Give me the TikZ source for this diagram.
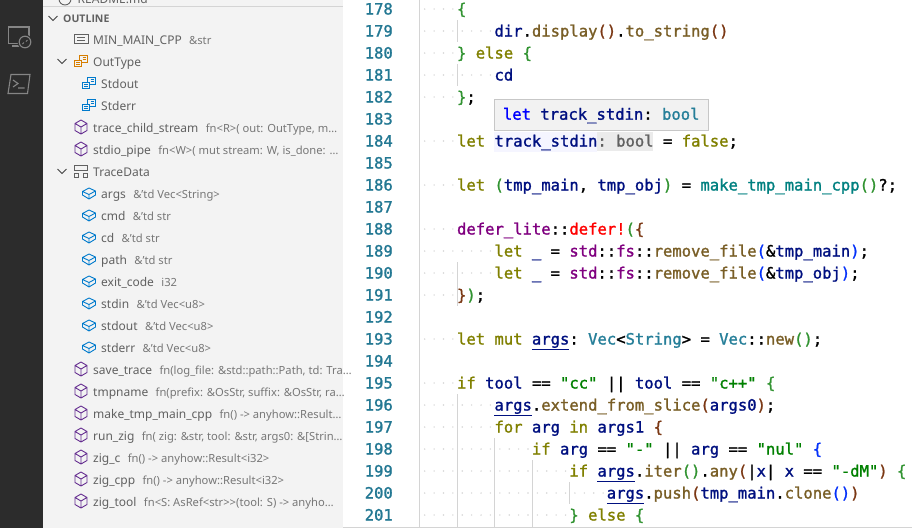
\documentclass[tikz,border=0pt]{standalone}
\usepackage{fontspec}
\setmainfont{Noto Sans}
\setmonofont{DejaVu Sans Mono}[FakeBold=1.4]
\newfontfamily\headfont{Open Sans}
\usetikzlibrary{positioning}

\definecolor{barbg}{HTML}{2C2C2C}
\definecolor{sidebg}{HTML}{F3F3F3}
\definecolor{barfg}{HTML}{858585}
\definecolor{nametext}{HTML}{616161}
\definecolor{detailtext}{HTML}{777777}
\definecolor{chevron}{HTML}{424242}
\definecolor{methodcol}{HTML}{652D90}
\definecolor{fieldcol}{HTML}{007ACC}
\definecolor{enumcol}{HTML}{D67E00}
\definecolor{kwcol}{HTML}{808000}
\definecolor{varcol}{HTML}{001080}
\definecolor{fncol}{HTML}{795E26}
\definecolor{tycol}{HTML}{267F99}
\definecolor{cfcol}{HTML}{008080}
\definecolor{pucol}{HTML}{800080}
\definecolor{strcol}{HTML}{008000}
\definecolor{gbr}{HTML}{319331}
\definecolor{bbr}{HTML}{0431FA}
\definecolor{rbr}{HTML}{7B3814}
\definecolor{numcol}{HTML}{237893}
\definecolor{hintcol}{HTML}{616161}
\definecolor{rulecol}{HTML}{D4D4D4}

\newcommand{\kw}[1]{\textcolor{kwcol}{#1}}
\newcommand{\vr}[1]{\textcolor{varcol}{#1}}
\newcommand{\uv}[1]{\textcolor{varcol}{\underline{#1}}}
\newcommand{\fnn}[1]{\textcolor{fncol}{#1}}
\newcommand{\ty}[1]{\textcolor{tycol}{#1}}
\newcommand{\cf}[1]{\textcolor{cfcol}{#1}}
\newcommand{\pu}[1]{\textcolor{pucol}{#1}}
\newcommand{\st}[1]{\textcolor{strcol}{#1}}
\newcommand{\gb}[1]{\textcolor{gbr}{#1}}
\newcommand{\bb}[1]{\textcolor{bbr}{#1}}
\newcommand{\rb}[1]{\textcolor{rbr}{#1}}

\tikzset{
    outlinename/.style={anchor=west, inner sep=0pt, text height=13pt, text depth=2.5pt,
        text=nametext, font=\fontsize{12}{15}\selectfont},
    outlinedetail/.style={anchor=base west, inner sep=0pt, text=detailtext,
        font=\fontsize{11.2}{14}\selectfont},
    codeline/.style={anchor=base west, inner sep=0pt, font=\ttfamily\fontsize{15.55}{22}\selectfont},
    linenum/.style={anchor=base east, inner sep=0pt, text=numcol,
        font=\ttfamily\fontsize{15.55}{22}\selectfont},
    guide/.style={draw=rulecol, line width=0.8pt},
    wsdot/.style={fill=black!16},
    barline/.style={draw=barfg, line width=1.1pt},
    pics/methodicon/.style={code={
        \draw[methodcol, line width=0.9pt, line join=round]
            (0,-7) -- (6,-3.5) -- (6,3.5) -- (0,7) -- (-6,3.5) -- (-6,-3.5) -- cycle
            (-6,-3.5) -- (0,0) -- (6,-3.5) (0,0) -- (0,7);
    }},
    pics/fieldicon/.style={code={
        \draw[fieldcol, line width=0.9pt, line join=round]
            (-6.5,-1.5) -- (0,-5) -- (6.5,-2) -- (6.5,2) -- (0,6) -- (-6.5,2) -- cycle
            (-6.5,-1.5) -- (0,1.5) -- (6.5,-2) (0,1.5) -- (0,6);
    }},
    pics/enumicon/.style={code={
        \draw[#1, line width=0.9pt]
            (-6.5,-1) rectangle (0,5.5) (-5,1.5) -- (-1.5,1.5) (-5,3.5) -- (-1.5,3.5)
            (-1.5,-1) -- (-1.5,-5.5) -- (6.5,-5.5) -- (6.5,1.5) -- (0,1.5)
            (1.5,-3.5) -- (4.5,-3.5) (1.5,-1.5) -- (4.5,-1.5);
    }},
    pics/structicon/.style={code={
        \draw[nametext, line width=0.9pt]
            (-6.5,-6) rectangle (6.5,-1) (-6.5,2) rectangle (-2.5,6) (2.5,2) rectangle (6.5,6);
    }},
    pics/consticon/.style={code={
        \draw[nametext, line width=0.9pt]
            (-7,-4.5) rectangle (7,4.5) (-4,-1.5) -- (4,-1.5) (-4,1.5) -- (4,1.5);
    }},
    pics/chevdown/.style={code={
        \draw[chevron, line width=0.8pt] (-4.5,-2) -- (0,2.5) -- (4.5,-2);
    }}
}

% one row of the outline tree
\newcommand{\outlinerow}[6]{
    \pic at (#2,#3) {#4};
    \node[outlinename] (#1) at (#2+12,#3) {#5};
    \node[outlinedetail] (#1d) at ([xshift=7pt]#1.base east) {#6};
}
% whitespace dots of one code row
\newcommand{\wsdots}[2]{
    \foreach \c in {1,...,#2}
        \fill[wsdot] ({420+(\c-0.5)*9.39},{9+(#1-178)*22}) circle (0.8);
}
% one code row: line number, column, tokens
\newcommand{\coderow}[3]{
    \node[codeline] (c#1) at ({419.4+#2*9.36},{14.5+(#1-178)*22}) {#3};
}

\begin{document}
\begin{tikzpicture}[x=1pt, y=-1pt]
    \useasboundingbox (0,0) rectangle (912,528);
    % Panels
    \fill[white] (0,0) rectangle (912,528);
    \fill[barbg] (0,0) rectangle (43,528);
    \fill[sidebg] (43,0) rectangle (343,528);

    % Activity bar
    \draw[barline] (8.5,27) rectangle (29,43.5);
    \draw[barline] (12,46) -- (20,46);
    \fill[barbg] (25,42) circle (7.5);
    \draw[barline] (25,42) circle (5.8);
    \draw[barfg, line width=0.8pt] (22.5,44) -- (24,42.5) (26,41.5) -- (27.5,40);
    \draw[barline] (11,74.5) -- (30,74.5) -- (27.5,93.5) -- (8,93.5) -- cycle;
    \draw[barline] (13,80) -- (18,83.5) -- (13,87) (18,88) -- (24.5,88);

    % Clipped section above the outline
    \begin{scope}
        \clip (43,0) rectangle (343,6);
        \draw[nametext, line width=0.9pt] (65,-1) circle (6);
        \node[outlinename] (readme) at (77.5,-2) {README.md};
    \end{scope}
    \draw[rulecol] (43,6.5) -- (343,6.5);

    % Outline header
    \pic at (53,18) {chevdown};
    \node[anchor=west, inner sep=0pt, text=nametext, font=\headfont\bfseries\fontsize{10.5}{12}\selectfont] (outline) at (63,18.5) {OUTLINE};

    % Outline rows
    \outlinerow{minmain}{81}{39}{consticon}{MIN\_MAIN\_CPP}{\&str}
    \pic at (62,61) {chevdown};
    \outlinerow{outtype}{81}{61}{enumicon=enumcol}{OutType}{}
    \outlinerow{stdoutm}{89}{83}{enumicon=fieldcol}{Stdout}{}
    \outlinerow{stderrm}{89}{105}{enumicon=fieldcol}{Stderr}{}
    \outlinerow{tracechild}{81}{127}{methodicon}{trace\_child\_stream}{fn<R>( out: OutType, m…}
    \outlinerow{stdiopipe}{81}{149}{methodicon}{stdio\_pipe}{fn<W>( mut stream: W, is\_done: …}
    \pic at (62,171) {chevdown};
    \outlinerow{tracedata}{81}{171}{structicon}{TraceData}{}
    \outlinerow{args}{89}{193}{fieldicon}{args}{\&'td Vec<String>}
    \outlinerow{cmd}{89}{215}{fieldicon}{cmd}{\&'td str}
    \outlinerow{cd}{89}{237}{fieldicon}{cd}{\&'td str}
    \outlinerow{path}{89}{259}{fieldicon}{path}{\&'td str}
    \outlinerow{exitcode}{89}{281}{fieldicon}{exit\_code}{i32}
    \outlinerow{stdin}{89}{303}{fieldicon}{stdin}{\&'td Vec<u8>}
    \outlinerow{stdoutf}{89}{325}{fieldicon}{stdout}{\&'td Vec<u8>}
    \outlinerow{stderrf}{89}{347}{fieldicon}{stderr}{\&'td Vec<u8>}
    \outlinerow{savetrace}{81}{369}{methodicon}{save\_trace}{fn(log\_file: \&std::path::Path, td: Tra…}
    \outlinerow{tmpname}{81}{391}{methodicon}{tmpname}{fn(prefix: \&OsStr, suffix: \&OsStr, ra…}
    \outlinerow{maketmp}{81}{413}{methodicon}{make\_tmp\_main\_cpp}{fn() -> anyhow::Result…}
    \outlinerow{runzig}{81}{435}{methodicon}{run\_zig}{fn( zig: \&str, tool: \&str, args0: \&[Strin…}
    \outlinerow{zigc}{81}{457}{methodicon}{zig\_c}{fn() -> anyhow::Result<i32>}
    \outlinerow{zigcpp}{81}{479}{methodicon}{zig\_cpp}{fn() -> anyhow::Result<i32>}
    \outlinerow{zigtool}{81}{501}{methodicon}{zig\_tool}{fn<S: AsRef<str>{}>(tool: S) -> anyho…}

    % Editor frame
    \draw[rulecol] (419.5,0) -- (419.5,527);
    \draw[rulecol] (343,527.5) -- (912,527.5);

    % Line numbers
    \foreach \n in {178,...,201}
        \node[linenum] (n\n) at (393,{14.5+(\n-178)*22}) {\n};

    % Inline hint highlight
    \fill[blue!4] (494,132) rectangle (597,152);
    \fill[black!8] (597,132) rectangle (653,151);

    % Whitespace dots
    \foreach \r/\k in {178/4,179/8,180/4,181/8,182/4,184/4,186/4,188/4,189/8,190/8,191/4,
        193/4,195/4,196/8,197/8,198/12,199/16,200/20,201/16}
        {\wsdots{\r}{\k}}

    % Indent guides
    \draw[guide] (457,20) -- (457,42) (457,64) -- (457,86);
    \draw[guide] (457,262) -- (457,306);
    \draw[guide] (457,394) -- (457,527);
    \draw[guide] (494.5,438) -- (494.5,527);
    \draw[guide] (532,460) -- (532,527);
    \draw[guide] (569.5,482) -- (569.5,504);

    % Code
    \coderow{178}{4}{\gb{\{}}
    \coderow{179}{8}{\vr{dir}.\fnn{display}\rb{()}.\fnn{to\_string}\rb{()}}
    \coderow{180}{4}{\gb{\}} \kw{else} \gb{\{}}
    \coderow{181}{8}{\vr{cd}}
    \coderow{182}{4}{\gb{\}};}
    \coderow{184}{4}{\kw{let} \vr{track\_stdin}\textcolor{hintcol}{: bool} = \kw{false};}
    \coderow{186}{4}{\kw{let} \gb{(}\vr{tmp\_main}, \vr{tmp\_obj}\gb{)} = \cf{make\_tmp\_main\_cpp}\gb{()}?;}
    \coderow{188}{4}{\pu{defer\_lite}::\textcolor{red}{defer!}\gb{(}\rb{\{}}
    \coderow{189}{8}{\kw{let} \vr{\_} = \pu{std}::\pu{fs}::\fnn{remove\_file}\bb{(}\&\vr{tmp\_main}\bb{)};}
    \coderow{190}{8}{\kw{let} \vr{\_} = \pu{std}::\pu{fs}::\fnn{remove\_file}\bb{(}\&\vr{tmp\_obj}\bb{)};}
    \coderow{191}{4}{\rb{\}}\gb{)};}
    \coderow{193}{4}{\kw{let} \kw{mut} \uv{args}: \ty{Vec}<\ty{String}> = \ty{Vec}::\fnn{new}\gb{()};}
    \coderow{195}{4}{\kw{if} \vr{tool} == \st{"cc"} || \vr{tool} == \st{"c++"} \gb{\{}}
    \coderow{196}{8}{\uv{args}.\fnn{extend\_from\_slice}\rb{(}\vr{args0}\rb{)};}
    \coderow{197}{8}{\kw{for} \vr{arg} \kw{in} \vr{args1} \rb{\{}}
    \coderow{198}{12}{\kw{if} \vr{arg} == \st{"-"} || \vr{arg} == \st{"nul"} \bb{\{}}
    \coderow{199}{16}{\kw{if} \uv{args}.\fnn{iter}\gb{()}.\fnn{any}\rb{(}|\vr{x}| \vr{x} == \st{"-dM"}\rb{)} \gb{\{}}
    \coderow{200}{20}{\uv{args}.\fnn{push}\rb{(}\vr{tmp\_main}.\fnn{clone}\bb{()}\rb{)}}
    \coderow{201}{16}{\gb{\}} \kw{else} \gb{\{}}

    % Hover box
    \node[anchor=north west, draw=black!22, fill=black!5, minimum width=214pt, minimum height=31pt,
        inner sep=0pt, text height=13pt, text depth=3pt, font=\ttfamily\fontsize{15.55}{22}\selectfont] (hover) at (494,99)
        {\textcolor{blue}{let} \vr{track\_stdin}: \ty{bool}};
\end{tikzpicture}
\end{document}
